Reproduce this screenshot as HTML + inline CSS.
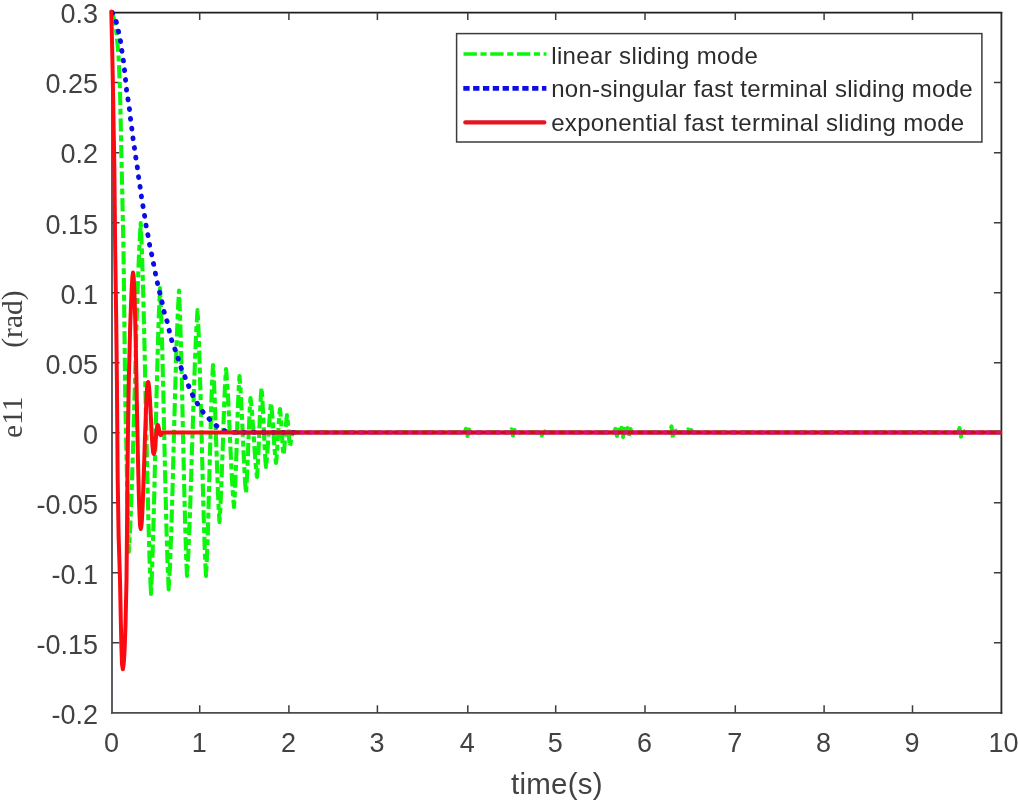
<!DOCTYPE html>
<html lang="en"><head><meta charset="utf-8"><title>Tracking error e11</title>
<style>html,body{margin:0;padding:0;background:#fff;overflow:hidden}svg{display:block}</style>
</head><body>
<svg width="1018" height="801" viewBox="0 0 1018 801">
<rect width="1018" height="801" fill="#fff"/>
<defs><filter id="soft" x="0" y="0" width="100%" height="100%" filterUnits="userSpaceOnUse" color-interpolation-filters="sRGB"><feGaussianBlur stdDeviation="0.55"/></filter></defs>
<g filter="url(#soft)">
<path d="M112.0 713.6999999999999 V12.6" fill="none" stroke="#4a4e55" stroke-width="1.8"/>
<path d="M111.1 712.8 H1002.3" fill="none" stroke="#4c4c4c" stroke-width="1.8"/>
<path d="M111.1 12.6 H1002.3" fill="none" stroke="#1e1e1e" stroke-width="1.8"/>
<path d="M1001.4 12.6 V713.6999999999999" fill="none" stroke="#2a2a2a" stroke-width="1.8"/>
<path d="M199.7 712.8 v-7.5 M199.7 12.6 v7.5 M288.9 712.8 v-7.5 M288.9 12.6 v7.5 M377.4 712.8 v-7.5 M377.4 12.6 v7.5 M467.8 712.8 v-7.5 M467.8 12.6 v7.5 M555.7 712.8 v-7.5 M555.7 12.6 v7.5 M645.0 712.8 v-7.5 M645.0 12.6 v7.5 M735.3 712.8 v-7.5 M735.3 12.6 v7.5 M824.1 712.8 v-7.5 M824.1 12.6 v7.5 M912.5 712.8 v-7.5 M912.5 12.6 v7.5 M112.0 82.62 h7.5 M1001.4 82.62 h-7.5 M112.0 152.64 h7.5 M1001.4 152.64 h-7.5 M112.0 222.66 h7.5 M1001.4 222.66 h-7.5 M112.0 292.68 h7.5 M1001.4 292.68 h-7.5 M112.0 362.70 h7.5 M1001.4 362.70 h-7.5 M112.0 432.72 h7.5 M1001.4 432.72 h-7.5 M112.0 502.74 h7.5 M1001.4 502.74 h-7.5 M112.0 572.76 h7.5 M1001.4 572.76 h-7.5 M112.0 642.78 h7.5 M1001.4 642.78 h-7.5" stroke="#3c3c3c" stroke-width="1.5" fill="none"/>
<polyline points="112.5,12.5 116.0,28.0 118.5,55.0 120.0,90.0 123.5,250.0 125.3,400.0 127.5,500.0 128.8,552.0 130.3,525.2 131.8,486.8 133.3,439.5 134.8,387.5 136.2,335.5 137.7,288.2 139.2,249.8 140.7,223.0 142.0,253.2 143.3,296.5 144.6,349.8 145.8,408.5 147.1,467.2 148.4,520.5 149.7,563.8 151.0,594.0 152.1,569.1 153.2,533.3 154.4,489.4 155.5,441.0 156.6,392.6 157.8,348.7 158.9,312.9 160.0,288.0 161.1,312.6 162.2,347.8 163.3,391.1 164.3,438.8 165.4,486.4 166.5,529.7 167.6,564.9 168.7,589.5 170.0,565.1 171.3,530.3 172.6,487.3 173.8,440.1 175.1,392.8 176.4,349.8 177.7,315.0 179.0,290.6 180.0,313.9 181.0,347.2 182.0,388.2 183.0,433.3 184.0,478.4 185.0,519.4 186.0,552.7 187.0,576.0 188.3,554.3 189.6,523.3 190.9,485.1 192.2,443.0 193.6,400.9 194.9,362.7 196.2,331.7 197.5,310.0 198.6,331.7 199.6,362.7 200.7,400.9 201.8,443.0 202.8,485.1 203.9,523.3 204.9,554.3 206.0,576.0 206.9,558.8 207.8,534.2 208.6,503.9 209.5,470.5 210.4,437.1 211.2,406.8 212.1,382.2 213.0,365.0 213.8,377.8 214.6,396.1 215.4,418.7 216.2,443.5 217.1,468.3 217.9,490.9 218.7,509.2 219.5,522.0 220.3,509.5 221.1,491.7 221.9,469.7 222.8,445.5 223.6,421.3 224.4,399.3 225.2,381.5 226.0,369.0 227.0,380.3 228.0,396.4 229.0,416.2 230.0,438.0 231.0,459.8 232.0,479.6 233.0,495.7 234.0,507.0 234.7,496.3 235.4,481.0 236.1,462.2 236.8,441.5 237.4,420.8 238.1,402.0 238.8,386.7 239.5,376.0 240.3,385.5 241.1,399.2 241.9,416.0 242.8,434.5 243.6,453.0 244.4,469.8 245.2,483.5 246.0,493.0 246.6,485.3 247.1,474.2 247.7,460.5 248.2,445.5 248.8,430.5 249.4,416.8 249.9,405.7 250.5,398.0 251.3,404.4 252.1,413.7 252.9,425.0 253.8,437.5 254.6,450.0 255.4,461.3 256.2,470.6 257.0,477.0 257.6,469.7 258.1,459.4 258.7,446.6 259.2,432.5 259.8,418.4 260.4,405.6 260.9,395.3 261.5,388.0 262.1,394.4 262.6,403.7 263.2,415.0 263.8,427.5 264.3,440.0 264.9,451.3 265.4,460.6 266.0,467.0 266.6,461.8 267.2,454.3 267.9,445.1 268.5,435.0 269.1,424.9 269.8,415.7 270.4,408.2 271.0,403.0 271.6,407.9 272.2,414.9 272.9,423.5 273.5,433.0 274.1,442.5 274.8,451.1 275.4,458.1 276.0,463.0 276.5,458.6 277.0,452.3 277.5,444.5 278.0,436.0 278.5,427.5 279.0,419.7 279.5,413.4 280.0,409.0 280.4,412.8 280.9,418.1 281.3,424.7 281.8,432.0 282.2,439.3 282.6,445.9 283.1,451.2 283.5,455.0 283.9,451.7 284.4,447.1 284.8,441.3 285.2,435.0 285.7,428.7 286.1,422.9 286.6,418.3 287.0,415.0 287.4,417.5 287.8,421.1 288.1,425.6 288.5,430.5 288.9,435.4 289.2,439.9 289.6,443.5 290.0,446.0 290.3,444.9 290.6,443.3 290.9,441.4 291.2,439.2 291.6,437.0 291.9,435.1 292.2,433.5 292.5,432.4 464.5,432.4 466.0,428.8 467.5,436.0 469.0,429.5 470.5,432.4 510.0,432.4 511.5,429.4 513.0,435.4 514.5,430.0 516.0,432.4 538.8,432.4 540.3,429.4 541.8,435.4 543.3,430.0 544.8,432.4 614.0,432.4 615.5,428.8 617.0,436.0 618.5,429.5 620.0,432.4 620.0,432.4 621.5,427.8 623.0,437.0 624.5,428.7 626.0,432.4 626.0,432.4 627.5,428.2 629.0,436.6 630.5,429.0 632.0,432.4 670.0,432.4 671.5,426.4 673.0,438.4 674.5,427.6 676.0,432.4 686.7,432.4 688.2,429.4 689.7,435.4 691.2,430.0 692.7,432.4 958.0,432.4 959.5,428.2 961.0,436.6 962.5,429.0 964.0,432.4 1001.4,432.4" fill="none" stroke="#0cf60c" stroke-width="4.1" stroke-dasharray="13.2 3.7 6 3.7" stroke-linejoin="round"/>
<polyline points="112.3,12.6 114.0,16.0 116.2,21.6 118.5,31.5 120.6,41.5 121.9,51.2 123.4,60.9 124.6,70.8 125.6,80.8 126.6,90.5 128.1,100.0 129.5,109.6 130.6,119.6 131.9,129.3 133.1,139.1 134.6,148.9 136.0,158.7 137.5,168.4 138.7,178.0 140.2,187.6 141.5,197.2 143.1,206.9 144.7,216.6 146.2,226.5 148.1,235.9 149.7,245.6 151.8,254.9 153.7,264.7 155.6,274.3 157.7,284.3 160.0,294.0 162.4,303.6 164.4,313.0 167.4,322.5 169.6,332.3 172.0,341.5 175.4,350.3 178.6,359.9 181.6,369.3 185.6,378.3 189.4,387.9 193.4,396.9 198.5,405.5 203.5,412.8 210.9,420.8 218.3,427.4 225.0,431.0 231.0,432.4 300.0,432.4" fill="none" stroke="#0c0ce6" stroke-width="4.9" stroke-dasharray="0.8 9.0" stroke-linecap="round" stroke-linejoin="round"/>
<polyline points="111.3,11.5 112.2,50.0 113.0,90.0 114.3,165.0 115.2,250.0 116.2,320.0 116.9,380.0 117.3,430.0 117.7,480.0 118.6,535.0 120.0,580.0 120.9,625.0 121.5,650.0 122.0,664.0 122.8,669.3 123.7,664.0 124.6,650.0 125.5,625.0 126.5,580.0 127.0,530.0 127.4,480.0 128.0,430.0 128.8,380.0 130.2,325.0 131.6,290.0 132.4,277.0 133.0,272.5 133.6,275.7 134.1,285.2 134.7,300.5 135.2,320.8 135.8,345.1 136.3,372.2 136.8,400.8 137.4,429.3 137.9,456.4 138.5,480.7 139.0,501.0 139.6,516.3 140.1,525.8 140.7,529.0 141.2,527.2 141.8,521.7 142.3,513.0 142.8,501.3 143.3,487.4 143.9,471.9 144.4,455.5 144.9,439.1 145.5,423.6 146.0,409.7 146.5,398.0 147.0,389.3 147.6,383.8 148.1,382.0 148.5,382.9 148.9,385.6 149.3,389.9 149.7,395.6 150.1,402.4 150.5,410.0 150.9,418.0 151.3,426.0 151.7,433.6 152.1,440.4 152.5,446.1 152.9,450.4 153.3,453.1 153.8,454.0 154.0,453.6 154.3,452.6 154.6,450.8 154.9,448.5 155.2,445.8 155.4,442.7 155.7,439.5 156.0,436.3 156.3,433.2 156.6,430.5 156.9,428.2 157.1,426.4 157.4,425.4 157.7,425.0 157.9,425.1 158.1,425.5 158.3,426.1 158.5,426.9 158.7,427.8 158.9,428.9 159.1,430.0 159.3,431.1 159.5,432.2 159.7,433.1 159.9,433.9 160.1,434.5 160.3,434.9 160.5,435.0 160.7,435.0 160.9,434.9 161.0,434.7 161.2,434.5 161.4,434.3 161.6,434.0 161.8,433.7 161.9,433.4 162.1,433.1 162.3,432.9 162.5,432.7 162.6,432.5 162.8,432.4 163.0,432.4 1000.2,432.4" fill="none" stroke="#fb0a12" stroke-width="4.0" stroke-linejoin="round" stroke-linecap="round"/>
<line x1="236" y1="432.4" x2="1001" y2="432.4" stroke="#b00048" stroke-opacity="0.42" stroke-width="4.5"/>
<line x1="300" y1="432.4" x2="1001" y2="432.4" stroke="#e010c0" stroke-opacity="0.55" stroke-width="4.4" stroke-dasharray="4.4 5.4"/>
<g font-family="'Liberation Sans', Arial, sans-serif" font-size="27px" fill="#424242">
<text x="98" y="23.4" text-anchor="end">0.3</text>
<text x="98" y="93.4" text-anchor="end">0.25</text>
<text x="98" y="163.4" text-anchor="end">0.2</text>
<text x="98" y="233.5" text-anchor="end">0.15</text>
<text x="98" y="303.5" text-anchor="end">0.1</text>
<text x="98" y="373.5" text-anchor="end">0.05</text>
<text x="98" y="443.5" text-anchor="end">0</text>
<text x="98" y="513.5" text-anchor="end">-0.05</text>
<text x="98" y="583.6" text-anchor="end">-0.1</text>
<text x="98" y="653.6" text-anchor="end">-0.15</text>
<text x="98" y="723.6" text-anchor="end">-0.2</text>
<text x="111.5" y="752.3" text-anchor="middle">0</text>
<text x="199.2" y="752.3" text-anchor="middle">1</text>
<text x="288.4" y="752.3" text-anchor="middle">2</text>
<text x="376.9" y="752.3" text-anchor="middle">3</text>
<text x="467.3" y="752.3" text-anchor="middle">4</text>
<text x="555.2" y="752.3" text-anchor="middle">5</text>
<text x="644.5" y="752.3" text-anchor="middle">6</text>
<text x="734.8" y="752.3" text-anchor="middle">7</text>
<text x="823.6" y="752.3" text-anchor="middle">8</text>
<text x="912.0" y="752.3" text-anchor="middle">9</text>
<text x="1003.5" y="752.3" text-anchor="middle">10</text>
<text x="557" y="794" text-anchor="middle" font-size="29.5px" letter-spacing="0.25">time(s)</text>
</g>
<g font-family="'Liberation Serif', 'Times New Roman', serif" font-size="29.6px" fill="#424242">
<text transform="translate(21.6 438) rotate(-90)">e11</text>
<text transform="translate(21.6 347.8) rotate(-90)">(rad)</text>
</g>
<rect x="456.6" y="33.6" width="525.3" height="108.4" fill="#fff" stroke="#3c3c3c" stroke-width="1.5"/>
<line x1="463.5" y1="54" x2="546.5" y2="54" stroke="#0cf60c" stroke-width="3.7" stroke-dasharray="13.4 3.6 6.1 3.6"/>
<line x1="463.3" y1="88.4" x2="546.4" y2="88.4" stroke="#0c0ce6" stroke-width="4.6" stroke-dasharray="6.3 3.53"/>
<line x1="465.3" y1="122.4" x2="544.3" y2="122.4" stroke="#e41420" stroke-width="4.2" stroke-linecap="round"/>
<g font-family="'Liberation Sans', Arial, sans-serif" font-size="24px" letter-spacing="0.28" fill="#2c2c2c">
<text x="551.2" y="64.3" letter-spacing="0.36">linear sliding mode</text>
<text x="551.2" y="96.8">non-singular fast terminal sliding mode</text>
<text x="551.2" y="131.2" letter-spacing="0.31">exponential fast terminal sliding mode</text>
</g>
</g>
</svg>
</body></html>
